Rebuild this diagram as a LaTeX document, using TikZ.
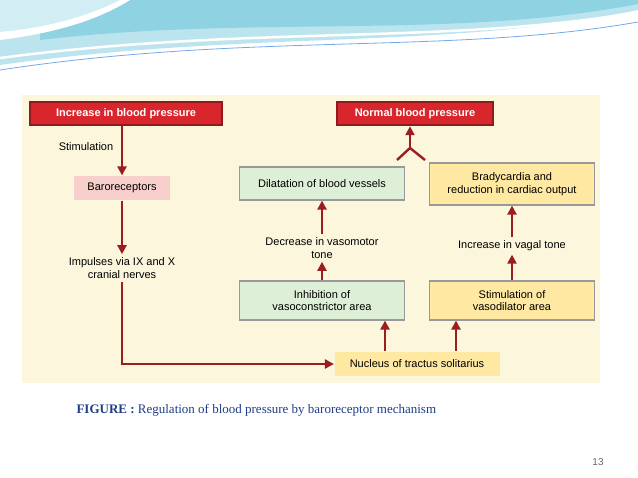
\documentclass[tikz,border=0pt]{standalone}
\usepackage{fontspec}
\setmainfont{Liberation Sans}
\newfontfamily\capfont{Liberation Serif}
\usetikzlibrary{arrows.meta,positioning}
\definecolor{panel}{HTML}{FBF6DC}
\definecolor{redbox}{HTML}{D9262C}
\definecolor{redline}{HTML}{8E1B1E}
\definecolor{pinkbox}{HTML}{F7CFCB}
\definecolor{greenbox}{HTML}{DDEFD6}
\definecolor{yellowbox}{HTML}{FEE8A2}
\definecolor{arrowred}{HTML}{9B1D20}
\definecolor{capblue}{HTML}{1F3C88}
\definecolor{wave}{HTML}{8FD3E3}
\tikzset{
  headbox/.style={draw=redline, line width=2.5pt, fill=redbox, text=white, font=\fontsize{11}{12}\selectfont\bfseries, inner sep=0pt},
  plainbox/.style={draw=black!40, line width=1.2pt, font=\fontsize{11}{12.5}\selectfont, align=center, inner sep=0pt},
  note/.style={font=\fontsize{11}{12.5}\selectfont, align=center},
  flow/.style={draw=arrowred, line width=2.4pt, -{Triangle[length=9pt,width=9pt]}}
}
\begin{document}
\begin{tikzpicture}[x=1pt,y=-1pt]
\useasboundingbox (0,0) rectangle (638,478);
% top waves
\fill[wave!60] (0,0) -- (638,0) -- (638,10) .. controls (450,50) and (250,30) .. (0,65) -- cycle;
\fill[wave] (40,0) -- (638,0) -- (638,4) .. controls (450,40) and (250,15) .. (40,40) -- cycle;
\fill[white] (0,0) -- (130,0) .. controls (90,25) and (40,35) .. (0,40) -- cycle;
\fill[wave!40] (0,0) -- (120,0) .. controls (80,20) and (40,28) .. (0,32) -- cycle;
\draw[white, line width=2.5pt] (0,58) .. controls (250,25) and (450,45) .. (638,12);
\draw[wave!80!blue, line width=0.8pt] (0,70) .. controls (250,32) and (450,55) .. (638,22);
% panel
\fill[panel] (22,95) rectangle (600,383);
% boxes
\node[headbox, minimum width=192, minimum height=23] (inc) at (126,113.5) {Increase in blood pressure};
\node[headbox, minimum width=156, minimum height=23] (norm) at (415,113.5) {Normal blood pressure};
\node[plainbox, fill=pinkbox, draw=none, minimum width=96, minimum height=24] (baro) at (122,188) {Baroreceptors};
\node[plainbox, fill=greenbox, minimum width=165, minimum height=33] (dil) at (322,183.5) {Dilatation of blood vessels};
\node[plainbox, fill=yellowbox, minimum width=165, minimum height=42] (brady) at (512,184) {Bradycardia and\\reduction in cardiac output};
\node[plainbox, fill=greenbox, minimum width=165, minimum height=39] (inhib) at (322,300.5) {Inhibition of\\vasoconstrictor area};
\node[plainbox, fill=yellowbox, minimum width=165, minimum height=39] (vaso) at (512,300.5) {Stimulation of\\vasodilator area};
\node[plainbox, fill=yellowbox, draw=none, minimum width=165, minimum height=24] (nts) at (417,364) {Nucleus of tractus solitarius};
% texts
\node[note] (stim) at (86,147) {Stimulation};
\node[note] (imp) at (122,268) {Impulses via IX and X\\cranial nerves};
\node[note] (dec) at (322,248) {Decrease in vasomotor\\tone};
\node[note] (vag) at (512,246) {Increase in vagal tone};
\coordinate (join) at (410,148);
% arrows
\draw[flow] (inc.south -| baro) -- (baro.north);
\draw[flow] (baro.south) -- (imp.north);
\draw[flow] (imp.south) -- (imp.south |- nts.west) -- (nts.west);
\draw[flow] ([xshift=-32pt]nts.north) -- ([xshift=63pt]inhib.south);
\draw[flow] ([xshift=39pt]nts.north) -- ([xshift=-56pt]vaso.south);
\draw[flow] (inhib.north) -- (dec.south);
\draw[flow] (dec.north) -- (dil.south);
\draw[flow] (vaso.north) -- (vag.south);
\draw[flow] (vag.north) -- (brady.south);
\draw[arrowred, line width=2.4pt] (397,160) -- (join) -- (425,160);
\draw[flow] (join) -- (norm.south -| join);
% caption
\node[anchor=west, font=\capfont\fontsize{13}{15}\selectfont, text=capblue] (cap) at (73,410) {\textbf{FIGURE :} Regulation of blood pressure by baroreceptor mechanism};
\node[font=\fontsize{10}{11}\selectfont, text=black!60] (pg) at (598,462) {13};
\end{tikzpicture}
\end{document}
